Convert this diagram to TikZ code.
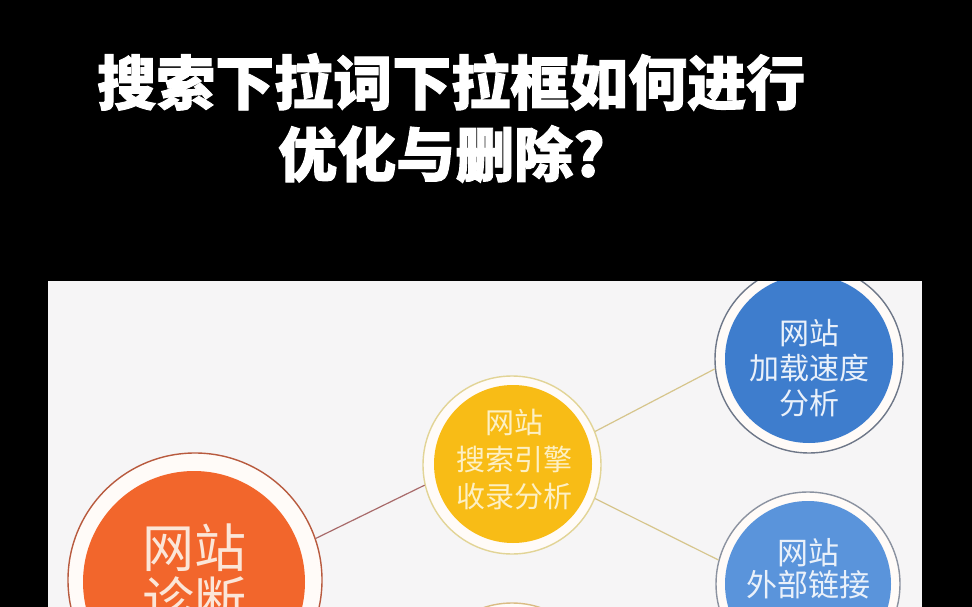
\documentclass[tikz,border=0pt]{standalone}
\usepackage{fontspec}
\newfontfamily\cjk{Noto Sans CJK SC}
\newfontfamily\cjkt[BoldFeatures={FakeBold=1.6}]{Noto Sans CJK SC}
\definecolor{panelbg}{HTML}{F6F5F6}
\definecolor{orfill}{HTML}{F2662C}
\definecolor{orline}{HTML}{B85A3E}
\definecolor{ortxt}{HTML}{FBE6D8}
\definecolor{yefill}{HTML}{F8BC16}
\definecolor{yeline}{HTML}{E2D496}
\definecolor{yetxt}{HTML}{FDF0C4}
\definecolor{bufill}{HTML}{3E7DCD}
\definecolor{bufillb}{HTML}{5A94DB}
\definecolor{buline}{HTML}{6E7788}
\definecolor{butxt}{HTML}{EAF1FA}
\definecolor{linkor}{HTML}{A86A6A}
\definecolor{linkye}{HTML}{D6C58C}
\definecolor{ringbg}{HTML}{FFFBF8}
\begin{document}
\begin{tikzpicture}[x=1pt,y=-1pt,
  titletxt/.style={inner sep=0pt,text=white,font=\cjkt\bfseries\fontsize{59}{59}\selectfont,anchor=west},
  ringout/.style={circle,inner sep=0pt,fill=ringbg,line width=1.4pt},
  ringin/.style={circle,inner sep=0pt},
  bubtxt/.style={inner sep=0pt,align=center},
  link/.style={line width=1.2pt}
]
\useasboundingbox (0,0) rectangle (972,607);
\fill[black] (0,0) rectangle (972,607);
% title
\node[titletxt] (t1) at (97,82) {搜索下拉词下拉框如何进行};
\node[titletxt] (t2) at (278,154) {优化与删除?};
% panel
\fill[panelbg] (48,281) rectangle (922,607);
\begin{scope}
\clip (48,281) rectangle (922,607);
% circles
\node[ringout,draw=orline,minimum size=254] (diag) at (195,580) {};
\node[ringin,fill=orfill,minimum size=222] (diagin) at (194,582) {};
\node[ringout,draw=yeline,minimum size=178] (seo) at (512,465) {};
\node[ringin,fill=yefill,minimum size=158] (seoin) at (513,464) {};
\node[ringout,draw=yeline!80!orline,minimum size=178] (low) at (512,692) {};
\node[ringout,draw=buline,minimum size=188] (speed) at (809,359) {};
\node[ringin,fill=bufill,minimum size=168] (speedin) at (809,359) {};
\node[ringout,draw=buline!80,minimum size=184] (ext) at (808,584) {};
\node[ringin,fill=bufillb,minimum size=166] (extin) at (808,584) {};
% connectors
\draw[link,draw=linkor] (diag.19) -- (seo.193);
\draw[link,draw=linkye] (seo.22) -- (speed.186);
\draw[link,draw=linkye] (seo.-22) -- (ext.165);
% texts
\node[bubtxt,text=ortxt,font=\cjk\fontsize{52}{53}\selectfont] (tdiag) at (194,574) {网站\\诊断};
\node[bubtxt,text=yetxt,font=\cjk\fontsize{29}{37}\selectfont] (tseo) at (514,460) {网站\\搜索引擎\\收录分析};
\node[bubtxt,text=butxt,font=\cjk\fontsize{30}{35}\selectfont] (tspeed) at (809,368) {网站\\加载速度\\分析};
\node[bubtxt,text=butxt,font=\cjk\fontsize{31}{32}\selectfont] (text) at (808,569) {网站\\外部链接};
\end{scope}
\end{tikzpicture}
\end{document}
